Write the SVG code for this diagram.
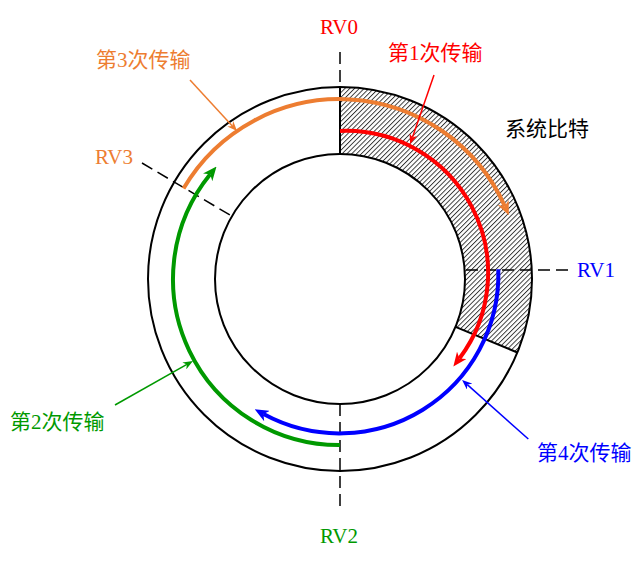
<svg xmlns="http://www.w3.org/2000/svg" width="644" height="564" viewBox="0 0 644 564">
  <style>
    .ring { fill: none; stroke: #000; stroke-width: 2; }
    .dash { fill: none; stroke: #000; stroke-width: 1.5; stroke-dasharray: 12 6; }
    .arc { fill: none; stroke-width: 4; }
    .call { fill: none; stroke-width: 1.5; }
    .lbl { font-family: "Liberation Serif", "Noto Sans CJK SC", serif; font-size: 21px; }
  </style>
  <defs>
    <pattern id="hatch" width="3.4" height="3.4" patternUnits="userSpaceOnUse" patternTransform="rotate(45)">
      <line x1="0.5" y1="0" x2="0.5" y2="3.4" stroke="#000" stroke-width="0.75"/>
    </pattern>
    <marker id="ah-red" viewBox="0 0 14 12" refX="4" refY="6" markerWidth="14" markerHeight="12" markerUnits="userSpaceOnUse" orient="auto">
      <path d="M0,0 L14,6 L0,12 L4,6 z" fill="#FF0000"/>
    </marker>
    <marker id="ah-orange" viewBox="0 0 14 12" refX="4" refY="6" markerWidth="14" markerHeight="12" markerUnits="userSpaceOnUse" orient="auto">
      <path d="M0,0 L14,6 L0,12 L4,6 z" fill="#ED7D31"/>
    </marker>
    <marker id="ah-green" viewBox="0 0 14 12" refX="4" refY="6" markerWidth="14" markerHeight="12" markerUnits="userSpaceOnUse" orient="auto">
      <path d="M0,0 L14,6 L0,12 L4,6 z" fill="#009900"/>
    </marker>
    <marker id="ah-blue" viewBox="0 0 14 12" refX="4" refY="6" markerWidth="14" markerHeight="12" markerUnits="userSpaceOnUse" orient="auto">
      <path d="M0,0 L14,6 L0,12 L4,6 z" fill="#0000FF"/>
    </marker>
    <marker id="sh-red" viewBox="0 0 10 8" refX="3" refY="4" markerWidth="10" markerHeight="8" markerUnits="userSpaceOnUse" orient="auto">
      <path d="M0,0 L10,4 L0,8 L3,4 z" fill="#FF0000"/>
    </marker>
    <marker id="sh-orange" viewBox="0 0 10 8" refX="3" refY="4" markerWidth="10" markerHeight="8" markerUnits="userSpaceOnUse" orient="auto">
      <path d="M0,0 L10,4 L0,8 L3,4 z" fill="#ED7D31"/>
    </marker>
    <marker id="sh-green" viewBox="0 0 10 8" refX="3" refY="4" markerWidth="10" markerHeight="8" markerUnits="userSpaceOnUse" orient="auto">
      <path d="M0,0 L10,4 L0,8 L3,4 z" fill="#009900"/>
    </marker>
    <marker id="sh-blue" viewBox="0 0 10 8" refX="3" refY="4" markerWidth="10" markerHeight="8" markerUnits="userSpaceOnUse" orient="auto">
      <path d="M0,0 L10,4 L0,8 L3,4 z" fill="#0000FF"/>
    </marker>
  </defs>
  <rect width="644" height="564" fill="#fff"/>

  <g id="system-bits">
    <path d="M340,87 A192,192 0 0 1 517.4,352.5 L455.5,326.8 A125,125 0 0 0 340,154 Z" fill="url(#hatch)" stroke="none"/>
    <line x1="340" y1="87" x2="340" y2="154" stroke="#000" stroke-width="2"/>
    <line x1="455.5" y1="326.8" x2="517.4" y2="352.5" stroke="#000" stroke-width="2"/>
  </g>

  <g id="rings">
    <circle class="ring" cx="340" cy="279" r="192"/>
    <circle class="ring" cx="340" cy="279" r="125"/>
  </g>

  <g id="connectors">
    <line class="dash" x1="340" y1="52" x2="340" y2="87"/>
    <line class="dash" x1="568" y1="270" x2="466" y2="270"/>
    <line class="dash" x1="340" y1="404" x2="340" y2="507"/>
    <line class="dash" x1="142" y1="163" x2="230" y2="215"/>

    <path class="arc" stroke="#ED7D31" d="M183.5,188.5 A181,181 0 0 1 504.8,206.2" marker-end="url(#ah-orange)"/>
    <path class="arc" stroke="#FF0000" d="M340,131 A142,142 0 0 1 459.4,358.5" marker-end="url(#ah-red)"/>
    <path class="arc" stroke="#0000FF" d="M498.3,269.3 A159,159 0 0 1 263.5,414.1" marker-end="url(#ah-blue)"/>
    <path class="arc" stroke="#009900" d="M340,445 A166,166 0 0 1 210.2,174.3" marker-end="url(#ah-green)"/>

    <line class="call" stroke="#FF0000" x1="434" y1="75" x2="412.4" y2="137.4" marker-end="url(#sh-red)"/>
    <line class="call" stroke="#ED7D31" x1="190" y1="80" x2="232.3" y2="125.9" marker-end="url(#sh-orange)"/>
    <line class="call" stroke="#009900" x1="115" y1="405" x2="186.9" y2="364.4" marker-end="url(#sh-green)"/>
    <line class="call" stroke="#0000FF" x1="528.3" y1="439" x2="467.3" y2="384.6" marker-end="url(#sh-blue)"/>
  </g>

  <g id="label-rv0"><text class="lbl" x="320" y="34" fill="#FF0000">RV0</text></g>
  <g id="label-rv1"><text class="lbl" x="577" y="277" fill="#0000FF">RV1</text></g>
  <g id="label-rv2"><text class="lbl" x="320" y="543" fill="#009900">RV2</text></g>
  <g id="label-rv3"><text class="lbl" x="95" y="164" fill="#ED7D31">RV3</text></g>
  <g id="label-tx1"><text class="lbl" x="388" y="60" fill="#FF0000">第1次传输</text></g>
  <g id="label-tx2"><text class="lbl" x="10" y="428.5" fill="#009900">第2次传输</text></g>
  <g id="label-tx3"><text class="lbl" x="96" y="67" fill="#ED7D31">第3次传输</text></g>
  <g id="label-tx4"><text class="lbl" x="537" y="460" fill="#0000FF">第4次传输</text></g>
  <g id="label-sysbits"><text class="lbl" x="505" y="135.5" fill="#000">系统比特</text></g>
</svg>
